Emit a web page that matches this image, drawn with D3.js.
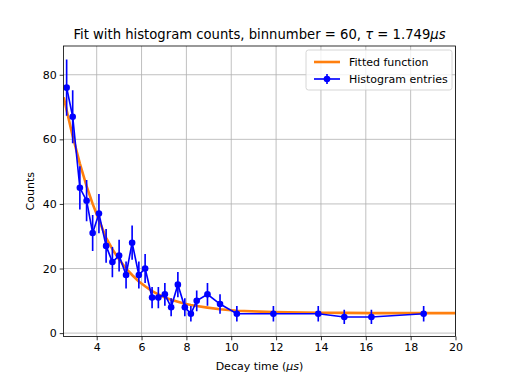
<!DOCTYPE html>
<html>
<head>
<meta charset="utf-8">
<script src="https://cdn.jsdelivr.net/npm/d3@7"></script>
<style>
  body { margin: 0; background: #fff; }
  text { font-family: "DejaVu Sans", sans-serif; fill: #000; }
</style>
</head>
<body>
<div id="chart"></div>
<script>
// histogram entries (bin position, counts, error)
var binX = [2.66, 2.93, 3.25, 3.55, 3.82, 4.10, 4.42, 4.70, 5.00, 5.31, 5.58, 5.88, 6.16, 6.47, 6.75,
            7.04, 7.32, 7.62, 7.93, 8.20, 8.46, 8.94, 9.50, 10.25, 11.88, 13.88, 15.04, 16.25, 18.58];
var counts = [76, 67, 45, 41, 31, 37, 27, 22, 24, 18, 28, 18, 20, 11, 11,
              12, 8, 15, 8, 6, 10, 12, 9, 6, 6, 6, 5, 5, 6];
var errs = [8.7, 8.2, 6.7, 6.4, 5.6, 6.1, 5.2, 4.7, 4.9, 4.2, 5.3, 4.2, 4.5, 3.3, 3.3,
            3.5, 2.8, 3.9, 2.8, 2.4, 3.2, 3.5, 3.0, 2.4, 2.4, 2.4, 2.2, 2.2, 2.4];

// fitted function
var fitX = [2.53, 2.66, 2.93, 3.25, 3.55, 3.82, 4.10, 4.42, 4.70, 5.00, 5.31, 5.58, 5.88, 6.16, 6.47,
            6.75, 7.04, 7.32, 7.62, 7.93, 8.20, 8.46, 8.94, 9.50, 10.25, 11.88, 13.88, 15.04, 16.25, 18.58, 20];
var fitY = [73, 69, 61, 52.5, 45.5, 40, 35, 29.5, 26, 22.8, 20, 18, 16, 14.5, 13,
            12, 11, 10.3, 9.7, 9.1, 8.7, 8.4, 7.9, 7.4, 6.9, 6.5, 6.3, 6.25, 6.2, 6.2, 6.2];

var xTicks = [4, 6, 8, 10, 12, 14, 16, 18, 20];
var yTicks = [0, 20, 40, 60, 80];

var W = 506, H = 379;
var m = { left: 63.5, right: 455.5, top: 46, bottom: 336.5 };

var svg = d3.select("#chart").append("svg")
    .attr("width", W)
    .attr("height", H);

var x = d3.scaleLinear().domain([2.52, 20]).range([m.left, m.right]);
var y = d3.scaleLinear().domain([-1.05, 88.9]).range([m.bottom, m.top]);

// clip to axes area
svg.append("clipPath").attr("id", "clip")
    .append("rect")
    .attr("x", m.left).attr("y", m.top)
    .attr("width", m.right - m.left).attr("height", m.bottom - m.top);

// grid
var grid = svg.append("g");
grid.selectAll(".gx").data(xTicks).enter().append("line")
    .attr("x1", d => x(d)).attr("x2", d => x(d))
    .attr("y1", m.top).attr("y2", m.bottom)
    .attr("stroke", "#b0b0b0").attr("stroke-width", 0.8);
grid.selectAll(".gy").data(yTicks).enter().append("line")
    .attr("x1", m.left).attr("x2", m.right)
    .attr("y1", d => y(d)).attr("y2", d => y(d))
    .attr("stroke", "#b0b0b0").attr("stroke-width", 0.8);

var plot = svg.append("g").attr("clip-path", "url(#clip)");

// fitted curve
var fitData = fitX.map((d, i) => [d, fitY[i]]);
plot.append("path")
    .datum(fitData)
    .attr("fill", "none")
    .attr("stroke", "#ff7f0e")
    .attr("stroke-width", 2.6)
    .attr("d", d3.line().x(d => x(d[0])).y(d => y(d[1])));

// histogram entries
var pts = binX.map((d, i) => ({ x: d, y: counts[i], e: errs[i] }));
plot.append("g").selectAll("line").data(pts).enter().append("line")
    .attr("x1", d => x(d.x)).attr("x2", d => x(d.x))
    .attr("y1", d => y(d.y - d.e)).attr("y2", d => y(d.y + d.e))
    .attr("stroke", "blue").attr("stroke-width", 1.65);
plot.append("path")
    .datum(pts)
    .attr("fill", "none")
    .attr("stroke", "blue")
    .attr("stroke-width", 1.65)
    .attr("d", d3.line().x(d => x(d.x)).y(d => y(d.y)));
plot.append("g").selectAll("circle").data(pts).enter().append("circle")
    .attr("cx", d => x(d.x)).attr("cy", d => y(d.y))
    .attr("r", 3.3).attr("fill", "blue");

// axes
var xAxis = svg.append("g")
    .attr("transform", "translate(0," + m.bottom + ")")
    .call(d3.axisBottom(x).tickValues(xTicks).tickSize(3.8).tickPadding(3).tickFormat(d3.format("d")));
var yAxis = svg.append("g")
    .attr("transform", "translate(" + m.left + ",0)")
    .call(d3.axisLeft(y).tickValues(yTicks).tickSize(3.8).tickPadding(3).tickFormat(d3.format("d")));
[xAxis, yAxis].forEach(function (a) {
    a.select(".domain").remove();
    a.selectAll("line").attr("stroke", "#000").attr("stroke-width", 0.8);
    a.selectAll("text").style("font-size", "11px").style("font-family", "DejaVu Sans");
});

// frame
svg.append("rect")
    .attr("x", m.left).attr("y", m.top)
    .attr("width", m.right - m.left).attr("height", m.bottom - m.top)
    .attr("fill", "none").attr("stroke", "#000").attr("stroke-width", 0.8);

// title
var title = svg.append("text")
    .attr("x", (m.left + m.right) / 2).attr("y", 39)
    .attr("text-anchor", "middle")
    .style("font-size", "13.2px");
title.append("tspan").text("Fit with histogram counts, binnumber = 60, ");
title.append("tspan").style("font-style", "italic").text("τ");
title.append("tspan").text(" = 1.749");
title.append("tspan").style("font-style", "italic").text("μs");

// axis labels
var xl = svg.append("text")
    .attr("x", (m.left + m.right) / 2).attr("y", 370)
    .attr("text-anchor", "middle")
    .style("font-size", "11px");
xl.append("tspan").text("Decay time (");
xl.append("tspan").style("font-style", "italic").text("μs");
xl.append("tspan").text(")");

svg.append("text")
    .attr("transform", "translate(34," + ((m.top + m.bottom) / 2) + ") rotate(-90)")
    .attr("text-anchor", "middle")
    .style("font-size", "11px")
    .text("Counts");

// legend
var lg = svg.append("g").attr("transform", "translate(306,50)");
lg.append("rect")
    .attr("width", 146).attr("height", 40).attr("rx", 2.5)
    .attr("fill", "#fff").attr("fill-opacity", 0.8)
    .attr("stroke", "#cccccc").attr("stroke-width", 0.8);
lg.append("line")
    .attr("x1", 8).attr("x2", 34).attr("y1", 12).attr("y2", 12)
    .attr("stroke", "#ff7f0e").attr("stroke-width", 2.6);
lg.append("text").attr("x", 43).attr("y", 16).style("font-size", "11px").text("Fitted function");
lg.append("line")
    .attr("x1", 8).attr("x2", 34).attr("y1", 29).attr("y2", 29)
    .attr("stroke", "blue").attr("stroke-width", 1.65);
lg.append("line")
    .attr("x1", 21).attr("x2", 21).attr("y1", 24).attr("y2", 34)
    .attr("stroke", "blue").attr("stroke-width", 1.65);
lg.append("circle").attr("cx", 21).attr("cy", 29).attr("r", 3.3).attr("fill", "blue");
lg.append("text").attr("x", 43).attr("y", 33).style("font-size", "11px").text("Histogram entries");
</script>
</body>
</html>
